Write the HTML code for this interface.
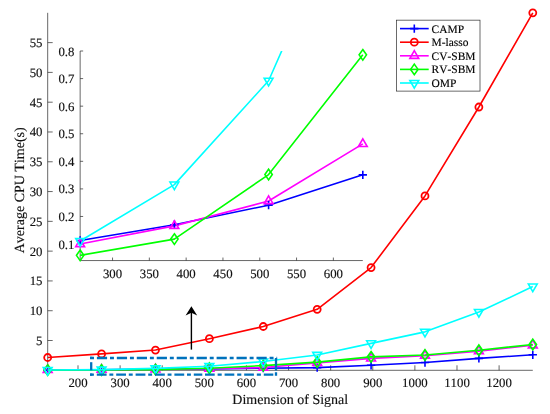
<!DOCTYPE html>
<html><head><meta charset="utf-8"><title>chart</title><style>html,body{margin:0;padding:0;background:#fff}body{width:550px;height:414px;overflow:hidden}</style></head><body>
<svg width="550" height="414" viewBox="0 0 550 414" style="display:block;text-rendering:geometricPrecision;font-kerning:none;font-family:'Liberation Serif',serif">
<rect width="550" height="414" fill="#fff"/>
<path d="M47.68 12.82V370.30H532.79" stroke="#262626" stroke-width="0.7" fill="none"/>
<path d="M78.00 370.30v-5.0M120.11 370.30v-5.0M162.22 370.30v-5.0M204.33 370.30v-5.0M246.44 370.30v-5.0M288.55 370.30v-5.0M330.66 370.30v-5.0M372.77 370.30v-5.0M414.88 370.30v-5.0M456.99 370.30v-5.0M499.10 370.30v-5.0M47.68 340.51h5.0M47.68 310.72h5.0M47.68 280.93h5.0M47.68 251.14h5.0M47.68 221.35h5.0M47.68 191.56h5.0M47.68 161.77h5.0M47.68 131.98h5.0M47.68 102.19h5.0M47.68 72.40h5.0M47.68 42.61h5.0" stroke="#262626" stroke-width="0.7" fill="none"/>
<g font-size="12.8" fill="#111" stroke="#111" stroke-width="0.15" text-anchor="middle">
<text x="78.00" y="387">200</text>
<text x="120.11" y="387">300</text>
<text x="162.22" y="387">400</text>
<text x="204.33" y="387">500</text>
<text x="246.44" y="387">600</text>
<text x="288.55" y="387">700</text>
<text x="330.66" y="387">800</text>
<text x="372.77" y="387">900</text>
<text x="414.88" y="387">1000</text>
<text x="456.99" y="387">1100</text>
<text x="499.10" y="387">1200</text>
</g>
<g font-size="12.8" fill="#111" stroke="#111" stroke-width="0.15" text-anchor="end">
<text x="42.5" y="344.91">5</text>
<text x="42.5" y="315.12">10</text>
<text x="42.5" y="285.33">15</text>
<text x="42.5" y="255.54">20</text>
<text x="42.5" y="225.75">25</text>
<text x="42.5" y="195.96">30</text>
<text x="42.5" y="166.17">35</text>
<text x="42.5" y="136.38">40</text>
<text x="42.5" y="106.59">45</text>
<text x="42.5" y="76.80">50</text>
<text x="42.5" y="47.01">55</text>
</g>
<text x="290.3" y="404.2" font-size="14" fill="#111" stroke="#111" stroke-width="0.15" text-anchor="middle">Dimension of Signal</text>
<text transform="translate(24 190.3) rotate(-90)" font-size="14" fill="#111" stroke="#111" stroke-width="0.15" text-anchor="middle">Average CPU Time(s)</text>
<g clip-path="none">
<polyline points="47.68,370.12 101.58,369.79 155.48,369.29 209.38,368.86 263.28,368.21 317.18,367.62 371.08,365.24 424.99,362.55 478.89,358.38 532.79,354.81" stroke="#0000ff" stroke-width="1.6" fill="none" stroke-linejoin="round"/>
<path d="M43.53 370.12H51.83M47.68 365.97V374.27" stroke="#0000ff" stroke-width="1.6" fill="none"/>
<path d="M97.43 369.79H105.73M101.58 365.64V373.94" stroke="#0000ff" stroke-width="1.6" fill="none"/>
<path d="M151.33 369.29H159.63M155.48 365.14V373.44" stroke="#0000ff" stroke-width="1.6" fill="none"/>
<path d="M205.23 368.86H213.53M209.38 364.71V373.01" stroke="#0000ff" stroke-width="1.6" fill="none"/>
<path d="M259.13 368.21H267.43M263.28 364.06V372.36" stroke="#0000ff" stroke-width="1.6" fill="none"/>
<path d="M313.03 367.62H321.33M317.18 363.47V371.77" stroke="#0000ff" stroke-width="1.6" fill="none"/>
<path d="M366.93 365.24H375.23M371.08 361.09V369.39" stroke="#0000ff" stroke-width="1.6" fill="none"/>
<path d="M420.84 362.55H429.14M424.99 358.40V366.70" stroke="#0000ff" stroke-width="1.6" fill="none"/>
<path d="M474.74 358.38H483.04M478.89 354.23V362.53" stroke="#0000ff" stroke-width="1.6" fill="none"/>
<path d="M528.64 354.81H536.94M532.79 350.66V358.96" stroke="#0000ff" stroke-width="1.6" fill="none"/>
<polyline points="47.68,357.49 101.58,353.92 155.48,350.04 209.38,338.72 263.28,326.51 317.18,309.35 371.08,267.58 424.99,195.91 478.89,107.02 532.79,12.82" stroke="#ff0000" stroke-width="1.6" fill="none" stroke-linejoin="round"/>
<circle cx="47.68" cy="357.49" r="3.5" stroke="#ff0000" stroke-width="1.8" fill="none"/>
<circle cx="101.58" cy="353.92" r="3.5" stroke="#ff0000" stroke-width="1.8" fill="none"/>
<circle cx="155.48" cy="350.04" r="3.5" stroke="#ff0000" stroke-width="1.8" fill="none"/>
<circle cx="209.38" cy="338.72" r="3.5" stroke="#ff0000" stroke-width="1.8" fill="none"/>
<circle cx="263.28" cy="326.51" r="3.5" stroke="#ff0000" stroke-width="1.8" fill="none"/>
<circle cx="317.18" cy="309.35" r="3.5" stroke="#ff0000" stroke-width="1.8" fill="none"/>
<circle cx="371.08" cy="267.58" r="3.5" stroke="#ff0000" stroke-width="1.8" fill="none"/>
<circle cx="424.99" cy="195.91" r="3.5" stroke="#ff0000" stroke-width="1.8" fill="none"/>
<circle cx="478.89" cy="107.02" r="3.5" stroke="#ff0000" stroke-width="1.8" fill="none"/>
<circle cx="532.79" cy="12.82" r="3.5" stroke="#ff0000" stroke-width="1.8" fill="none"/>
<polyline points="47.68,370.00 101.58,369.70 155.48,369.31 209.38,368.77 263.28,367.54 317.18,362.85 371.08,358.38 424.99,355.70 478.89,351.23 532.79,345.28" stroke="#ff00ff" stroke-width="1.6" fill="none" stroke-linejoin="round"/>
<path d="M47.68 364.90L52.10 372.55L43.26 372.55Z" stroke="#ff00ff" stroke-width="1.6" fill="none" stroke-linejoin="miter"/>
<path d="M101.58 364.60L106.00 372.25L97.16 372.25Z" stroke="#ff00ff" stroke-width="1.6" fill="none" stroke-linejoin="miter"/>
<path d="M155.48 364.21L159.90 371.86L151.06 371.86Z" stroke="#ff00ff" stroke-width="1.6" fill="none" stroke-linejoin="miter"/>
<path d="M209.38 363.67L213.80 371.32L204.97 371.32Z" stroke="#ff00ff" stroke-width="1.6" fill="none" stroke-linejoin="miter"/>
<path d="M263.28 362.44L267.70 370.09L258.87 370.09Z" stroke="#ff00ff" stroke-width="1.6" fill="none" stroke-linejoin="miter"/>
<path d="M317.18 357.75L321.60 365.40L312.77 365.40Z" stroke="#ff00ff" stroke-width="1.6" fill="none" stroke-linejoin="miter"/>
<path d="M371.08 353.28L375.50 360.93L366.67 360.93Z" stroke="#ff00ff" stroke-width="1.6" fill="none" stroke-linejoin="miter"/>
<path d="M424.99 350.60L429.40 358.25L420.57 358.25Z" stroke="#ff00ff" stroke-width="1.6" fill="none" stroke-linejoin="miter"/>
<path d="M478.89 346.13L483.30 353.78L474.47 353.78Z" stroke="#ff00ff" stroke-width="1.6" fill="none" stroke-linejoin="miter"/>
<path d="M532.79 340.18L537.20 347.83L528.37 347.83Z" stroke="#ff00ff" stroke-width="1.6" fill="none" stroke-linejoin="miter"/>
<polyline points="47.68,370.12 101.58,369.95 155.48,369.60 209.38,368.20 263.28,365.62 317.18,362.08 371.08,356.83 424.99,354.93 478.89,350.22 532.79,344.44" stroke="#00ff00" stroke-width="1.6" fill="none" stroke-linejoin="round"/>
<path d="M47.68 364.82L51.38 370.12L47.68 375.42L43.98 370.12Z" stroke="#00ff00" stroke-width="1.6" fill="none" stroke-linejoin="miter"/>
<path d="M101.58 364.65L105.28 369.95L101.58 375.25L97.88 369.95Z" stroke="#00ff00" stroke-width="1.6" fill="none" stroke-linejoin="miter"/>
<path d="M155.48 364.30L159.18 369.60L155.48 374.90L151.78 369.60Z" stroke="#00ff00" stroke-width="1.6" fill="none" stroke-linejoin="miter"/>
<path d="M209.38 362.90L213.08 368.20L209.38 373.50L205.68 368.20Z" stroke="#00ff00" stroke-width="1.6" fill="none" stroke-linejoin="miter"/>
<path d="M263.28 360.32L266.98 365.62L263.28 370.92L259.58 365.62Z" stroke="#00ff00" stroke-width="1.6" fill="none" stroke-linejoin="miter"/>
<path d="M317.18 356.78L320.88 362.08L317.18 367.38L313.48 362.08Z" stroke="#00ff00" stroke-width="1.6" fill="none" stroke-linejoin="miter"/>
<path d="M371.08 351.53L374.78 356.83L371.08 362.13L367.38 356.83Z" stroke="#00ff00" stroke-width="1.6" fill="none" stroke-linejoin="miter"/>
<path d="M424.99 349.63L428.69 354.93L424.99 360.23L421.29 354.93Z" stroke="#00ff00" stroke-width="1.6" fill="none" stroke-linejoin="miter"/>
<path d="M478.89 344.92L482.59 350.22L478.89 355.52L475.19 350.22Z" stroke="#00ff00" stroke-width="1.6" fill="none" stroke-linejoin="miter"/>
<path d="M532.79 339.14L536.49 344.44L532.79 349.74L529.09 344.44Z" stroke="#00ff00" stroke-width="1.6" fill="none" stroke-linejoin="miter"/>
<polyline points="47.68,370.00 101.58,369.64 155.48,368.42 209.38,366.18 263.28,361.54 317.18,354.93 371.08,343.37 424.99,331.87 478.89,312.03 532.79,286.59" stroke="#00ffff" stroke-width="1.6" fill="none" stroke-linejoin="round"/>
<path d="M47.68 375.10L52.10 367.45L43.26 367.45Z" stroke="#00ffff" stroke-width="1.6" fill="none" stroke-linejoin="miter"/>
<path d="M101.58 374.74L106.00 367.09L97.16 367.09Z" stroke="#00ffff" stroke-width="1.6" fill="none" stroke-linejoin="miter"/>
<path d="M155.48 373.52L159.90 365.87L151.06 365.87Z" stroke="#00ffff" stroke-width="1.6" fill="none" stroke-linejoin="miter"/>
<path d="M209.38 371.28L213.80 363.63L204.97 363.63Z" stroke="#00ffff" stroke-width="1.6" fill="none" stroke-linejoin="miter"/>
<path d="M263.28 366.64L267.70 358.99L258.87 358.99Z" stroke="#00ffff" stroke-width="1.6" fill="none" stroke-linejoin="miter"/>
<path d="M317.18 360.03L321.60 352.38L312.77 352.38Z" stroke="#00ffff" stroke-width="1.6" fill="none" stroke-linejoin="miter"/>
<path d="M371.08 348.47L375.50 340.82L366.67 340.82Z" stroke="#00ffff" stroke-width="1.6" fill="none" stroke-linejoin="miter"/>
<path d="M424.99 336.97L429.40 329.32L420.57 329.32Z" stroke="#00ffff" stroke-width="1.6" fill="none" stroke-linejoin="miter"/>
<path d="M478.89 317.13L483.30 309.48L474.47 309.48Z" stroke="#00ffff" stroke-width="1.6" fill="none" stroke-linejoin="miter"/>
<path d="M532.79 291.69L537.20 284.04L528.37 284.04Z" stroke="#00ffff" stroke-width="1.6" fill="none" stroke-linejoin="miter"/>
</g>
<g stroke="#0072bd" stroke-width="2.3" fill="none">
<path d="M90.05 358.0H277.15" stroke-dasharray="10.2 2.9 3.95 2.9" stroke-dashoffset="13.1"/>
<path d="M90.05 374.7H202.3" stroke-dasharray="9.8 2.8 3.9 2.9" stroke-dashoffset="12.65"/>
<path d="M205 374.7H273.3" stroke-dasharray="9.7 2.9 4.1 2.9" stroke-dashoffset="0"/>
<path d="M91.2 362.2V370.3"/>
<path d="M91.2 356.85v2.2M91.2 373.5v2.35"/>
<path d="M276 358.0V370.4M276 372.2V375.85"/>
</g>
<path d="M191.4 349.6V312" stroke="#000" stroke-width="1.4" fill="none"/>
<path d="M191.4 306.3L197.2 315.6L191.4 312.8L185.6 315.6Z" fill="#000"/>
<path d="M80.15 51.00V260.55H362.81" stroke="#262626" stroke-width="0.7" fill="none"/>
<path d="M112.54 260.55v-3.0M149.34 260.55v-3.0M186.15 260.55v-3.0M222.95 260.55v-3.0M259.76 260.55v-3.0M296.56 260.55v-3.0M333.37 260.55v-3.0M80.15 244.06h3.0M80.15 216.48h3.0M80.15 188.90h3.0M80.15 161.32h3.0M80.15 133.74h3.0M80.15 106.16h3.0M80.15 78.58h3.0M80.15 51.00h3.0" stroke="#262626" stroke-width="0.7" fill="none"/>
<g font-size="12.8" fill="#111" stroke="#111" stroke-width="0.15" text-anchor="middle">
<text x="112.54" y="278">300</text>
<text x="149.34" y="278">350</text>
<text x="186.15" y="278">400</text>
<text x="222.95" y="278">450</text>
<text x="259.76" y="278">500</text>
<text x="296.56" y="278">550</text>
<text x="333.37" y="278">600</text>
</g>
<g font-size="12.8" fill="#111" stroke="#111" stroke-width="0.15" text-anchor="end">
<text x="74.4" y="248.56">0.1</text>
<text x="74.4" y="220.98">0.2</text>
<text x="74.4" y="193.40">0.3</text>
<text x="74.4" y="165.82">0.4</text>
<text x="74.4" y="138.24">0.5</text>
<text x="74.4" y="110.66">0.6</text>
<text x="74.4" y="83.08">0.7</text>
<text x="74.4" y="55.50">0.8</text>
</g>
<clipPath id="ic"><rect x="72.15" y="51.00" width="298.66" height="217.55"/></clipPath>
<g clip-path="url(#ic)">
<polyline points="80.15,240.47 174.37,224.75 268.59,205.17 362.81,174.83" stroke="#0000ff" stroke-width="1.6" fill="none" stroke-linejoin="round"/>
<polyline points="80.15,244.06 174.37,225.86 268.59,201.04 362.81,143.94" stroke="#ff00ff" stroke-width="1.6" fill="none" stroke-linejoin="round"/>
<polyline points="80.15,255.37 174.37,239.10 268.59,174.56 362.81,54.86" stroke="#00ff00" stroke-width="1.6" fill="none" stroke-linejoin="round"/>
<polyline points="80.15,241.03 174.37,184.60 268.59,80.79 362.81,-133.79" stroke="#00ffff" stroke-width="1.6" fill="none" stroke-linejoin="round"/>
</g>
<path d="M76.00 240.47H84.30M80.15 236.32V244.62" stroke="#0000ff" stroke-width="1.6" fill="none"/>
<path d="M170.22 224.75H178.52M174.37 220.60V228.90" stroke="#0000ff" stroke-width="1.6" fill="none"/>
<path d="M264.44 205.17H272.74M268.59 201.02V209.32" stroke="#0000ff" stroke-width="1.6" fill="none"/>
<path d="M358.66 174.83H366.96M362.81 170.68V178.98" stroke="#0000ff" stroke-width="1.6" fill="none"/>
<path d="M80.15 238.96L84.57 246.61L75.73 246.61Z" stroke="#ff00ff" stroke-width="1.6" fill="none" stroke-linejoin="miter"/>
<path d="M174.37 220.76L178.79 228.41L169.95 228.41Z" stroke="#ff00ff" stroke-width="1.6" fill="none" stroke-linejoin="miter"/>
<path d="M268.59 195.94L273.01 203.59L264.17 203.59Z" stroke="#ff00ff" stroke-width="1.6" fill="none" stroke-linejoin="miter"/>
<path d="M362.81 138.84L367.23 146.49L358.40 146.49Z" stroke="#ff00ff" stroke-width="1.6" fill="none" stroke-linejoin="miter"/>
<path d="M80.15 250.07L83.85 255.37L80.15 260.67L76.45 255.37Z" stroke="#00ff00" stroke-width="1.6" fill="none" stroke-linejoin="miter"/>
<path d="M174.37 233.80L178.07 239.10L174.37 244.40L170.67 239.10Z" stroke="#00ff00" stroke-width="1.6" fill="none" stroke-linejoin="miter"/>
<path d="M268.59 169.26L272.29 174.56L268.59 179.86L264.89 174.56Z" stroke="#00ff00" stroke-width="1.6" fill="none" stroke-linejoin="miter"/>
<path d="M362.81 49.56L366.51 54.86L362.81 60.16L359.11 54.86Z" stroke="#00ff00" stroke-width="1.6" fill="none" stroke-linejoin="miter"/>
<path d="M80.15 246.13L84.57 238.48L75.73 238.48Z" stroke="#00ffff" stroke-width="1.6" fill="none" stroke-linejoin="miter"/>
<path d="M174.37 189.70L178.79 182.05L169.95 182.05Z" stroke="#00ffff" stroke-width="1.6" fill="none" stroke-linejoin="miter"/>
<path d="M268.59 85.89L273.01 78.24L264.17 78.24Z" stroke="#00ffff" stroke-width="1.6" fill="none" stroke-linejoin="miter"/>
<rect x="396.5" y="20.15" width="83.5" height="70.95" fill="#fff" stroke="#262626" stroke-width="0.68"/>
<path d="M400 28.60H428.7" stroke="#0000ff" stroke-width="1.6"/>
<path d="M410.15 28.60H418.45M414.30 24.45V32.75" stroke="#0000ff" stroke-width="1.6" fill="none"/>
<text x="431.6" y="32.50" font-size="11.45" fill="#000" stroke="#000" stroke-width="0.15">CAMP</text>
<path d="M400 42.20H428.7" stroke="#ff0000" stroke-width="1.6"/>
<circle cx="414.30" cy="42.20" r="3.5" stroke="#ff0000" stroke-width="1.8" fill="none"/>
<text x="431.6" y="46.10" font-size="11.45" fill="#000" stroke="#000" stroke-width="0.15">M-lasso</text>
<path d="M400 55.80H428.7" stroke="#ff00ff" stroke-width="1.6"/>
<path d="M414.30 50.70L418.72 58.35L409.88 58.35Z" stroke="#ff00ff" stroke-width="1.6" fill="none" stroke-linejoin="miter"/>
<text x="431.6" y="59.70" font-size="11.45" fill="#000" stroke="#000" stroke-width="0.15">CV-SBM</text>
<path d="M400 69.40H428.7" stroke="#00ff00" stroke-width="1.6"/>
<path d="M414.30 64.10L418.00 69.40L414.30 74.70L410.60 69.40Z" stroke="#00ff00" stroke-width="1.6" fill="none" stroke-linejoin="miter"/>
<text x="431.6" y="73.30" font-size="11.45" fill="#000" stroke="#000" stroke-width="0.15">RV-SBM</text>
<path d="M400 83.00H428.7" stroke="#00ffff" stroke-width="1.6"/>
<path d="M414.30 88.10L418.72 80.45L409.88 80.45Z" stroke="#00ffff" stroke-width="1.6" fill="none" stroke-linejoin="miter"/>
<text x="431.6" y="86.90" font-size="11.45" fill="#000" stroke="#000" stroke-width="0.15">OMP</text>
</svg>
</body></html>
